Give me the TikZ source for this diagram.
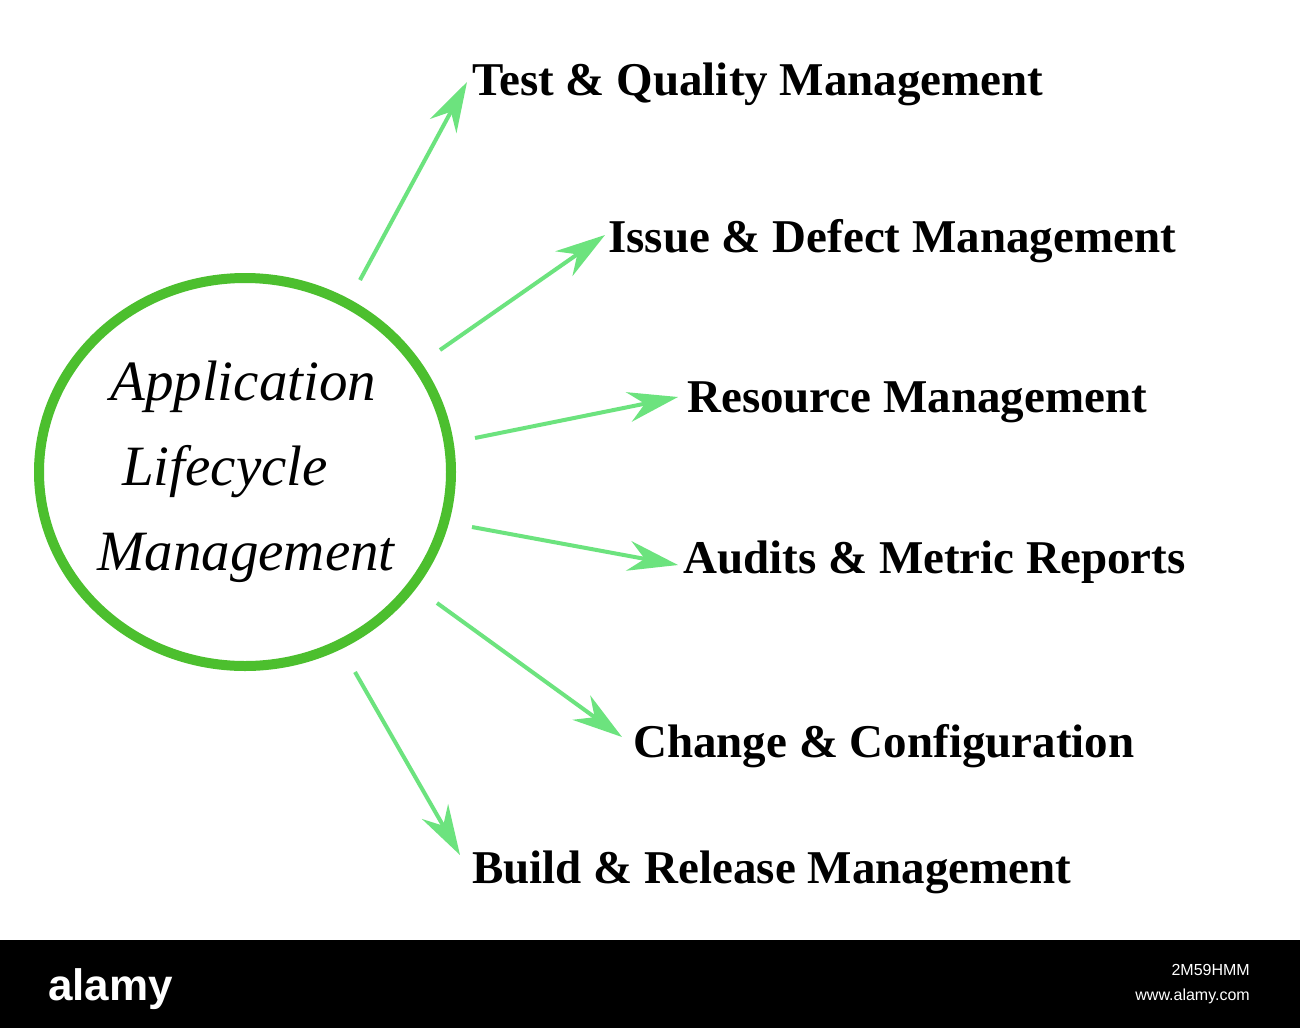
\documentclass[tikz,border=0pt]{standalone}
\usepackage{fontspec}
\setmainfont{Liberation Serif}
\newfontfamily\wmfont{Liberation Sans}
\usetikzlibrary{arrows.meta,shapes.geometric}
\definecolor{ring}{HTML}{4CBF2E}
\definecolor{arr}{HTML}{6CE37E}
\tikzset{
  lab/.style={anchor=base west,font=\bfseries\fontsize{47}{47}\selectfont,inner sep=0},
  ctr/.style={anchor=base west,font=\itshape\fontsize{57}{57}\selectfont,inner sep=0},
  conn/.style={draw=arr,line width=4pt,-{Stealth[length=50pt,width=30pt]}}
}
\begin{document}
\begin{tikzpicture}[x=1pt,y=-1pt]
\useasboundingbox (0,0) rectangle (1300,1028);
\fill[white] (0,0) rectangle (1300,940);
\fill[black] (0,940) rectangle (1300,1028);
\node[anchor=base west,text=white,font=\wmfont\bfseries\fontsize{44}{44}\selectfont,inner sep=0] (wm) at (48,1000) {alamy};
\node[anchor=base east,text=white,font=\wmfont\fontsize{16}{16}\selectfont,inner sep=0] (id) at (1250,975) {2M59HMM};
\node[anchor=base east,text=white,font=\wmfont\fontsize{16}{16}\selectfont,inner sep=0] (url) at (1250,1000) {www.alamy.com};
\node[draw=ring,line width=10pt,ellipse,minimum width=412pt,minimum height=388pt,inner sep=0] (c) at (245,472) {};
\node[ctr] (t1) at (110,400) {Application};
\node[ctr] (t2) at (122,485) {Lifecycle};
\node[ctr] (t3) at (97,570) {Management};
\node[lab] (a) at (472,95) {Test \& Quality Management};
\node[lab] (b) at (608,252) {Issue \& Defect Management};
\node[lab] (r) at (687,412) {Resource Management};
\node[lab] (d) at (683,573) {Audits \& Metric Reports};
\node[lab] (e) at (633,757) {Change \& Configuration};
\node[lab] (f) at (472,883) {Build \& Release Management};
\coordinate (s1) at (360,280); \coordinate (e1) at (467,82);
\coordinate (s2) at (440,350); \coordinate (e2) at (605,235);
\coordinate (s3) at (475,438); \coordinate (e3) at (678,397);
\coordinate (s4) at (472,527); \coordinate (e4) at (678,565);
\coordinate (s5) at (437,603); \coordinate (e5) at (622,737);
\coordinate (s6) at (355,672); \coordinate (e6) at (460,855);
\foreach \i in {1,...,6} \draw[conn] (s\i) -- (e\i);
\end{tikzpicture}
\end{document}
